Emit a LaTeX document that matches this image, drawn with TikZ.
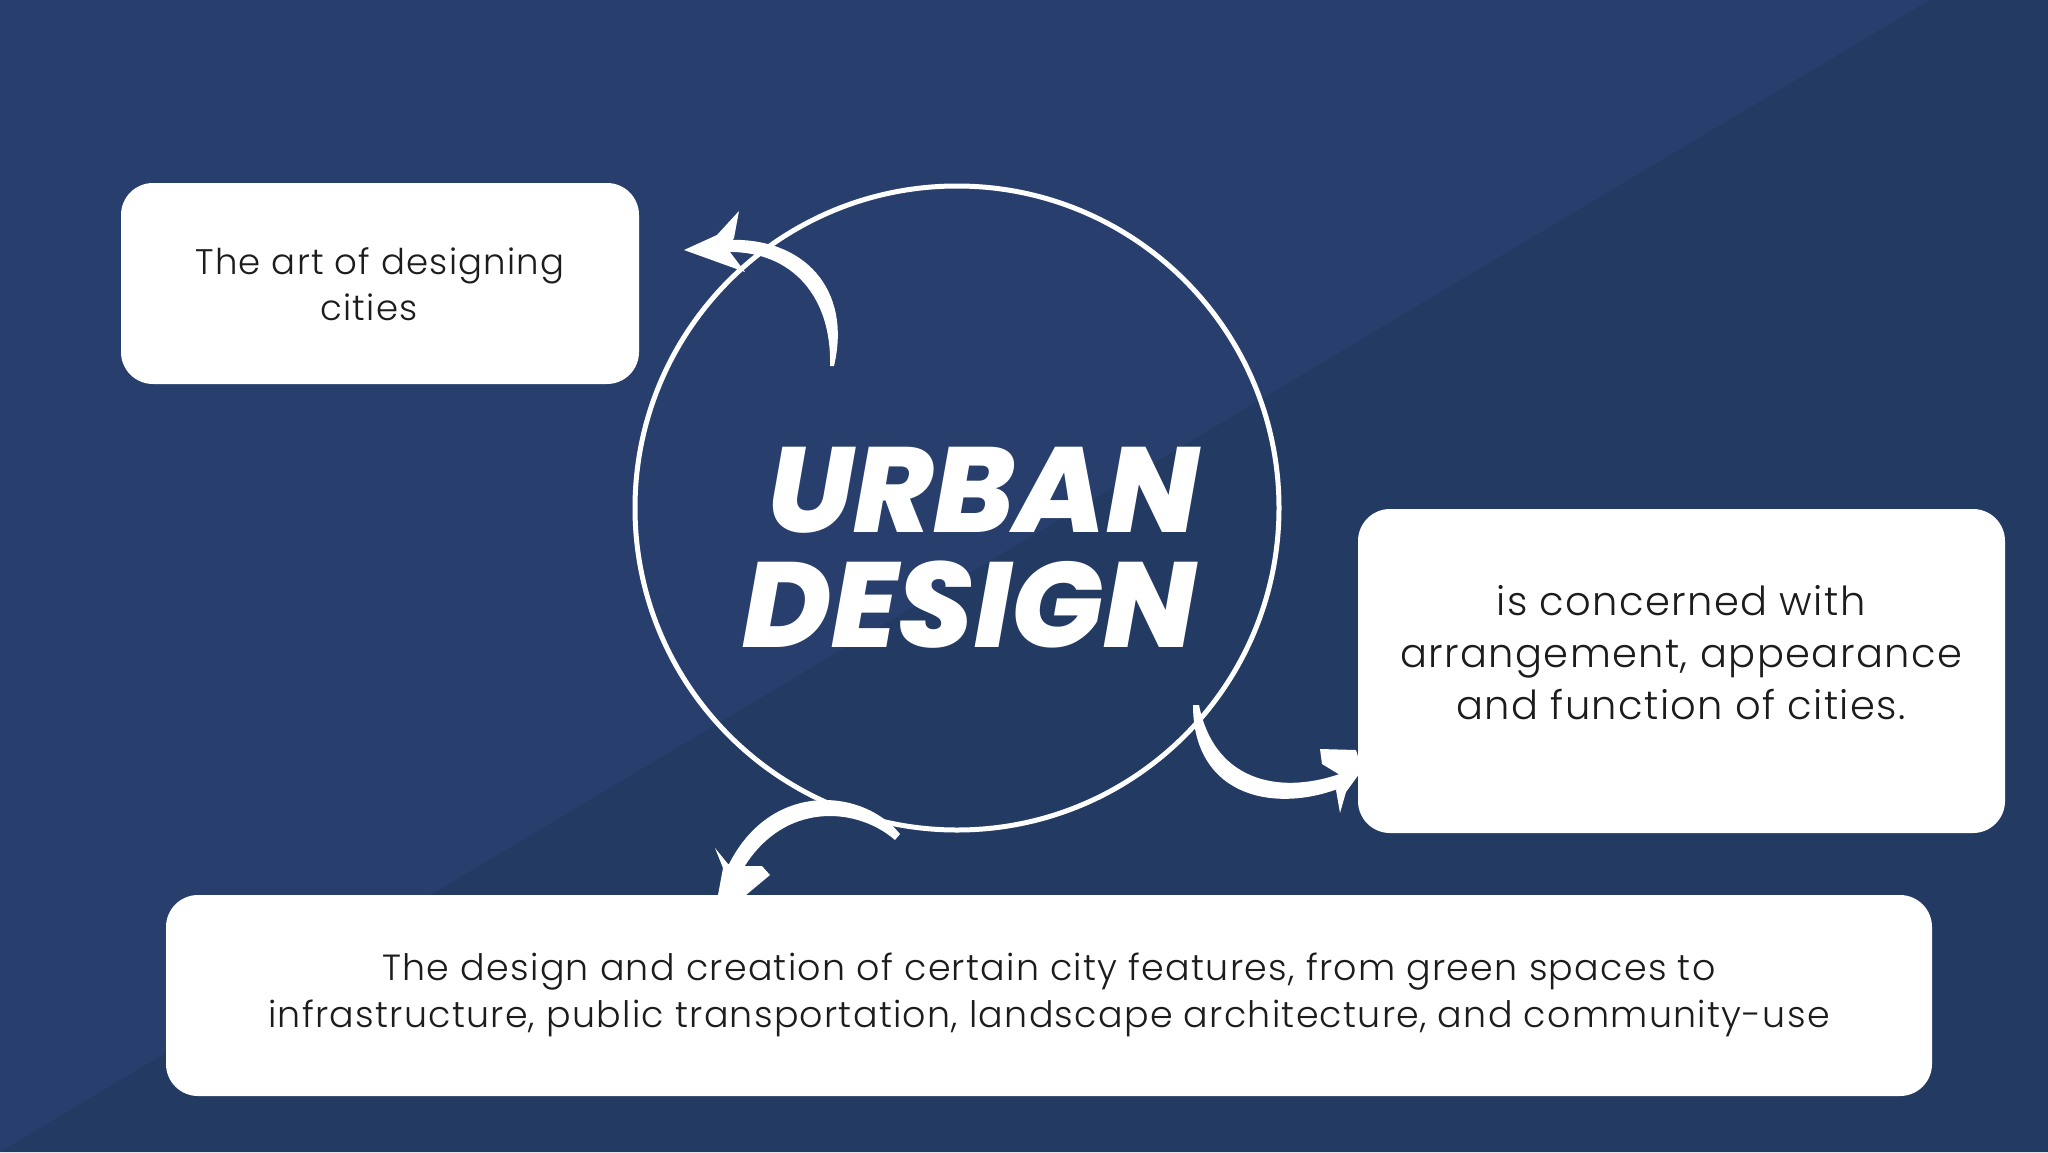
\documentclass[tikz,border=0pt]{standalone}
\usepackage{fontspec}
\setmainfont{Poppins}
\newfontfamily\titlefont{Poppins ExtraBold Italic}
\newfontfamily\bodyfont{Poppins Light}[LetterSpace=3.5]
\definecolor{bgA}{HTML}{283F6E}
\definecolor{bgB}{HTML}{233A63}
\definecolor{txt}{HTML}{1C1C1C}
\begin{document}
\begin{tikzpicture}[x=1pt,y=-1pt,
  card/.style={fill=white,draw=none,rounded corners=32pt,inner sep=0pt},
  cardtext/.style={text=txt,align=center,inner sep=0pt},
  arr/.style={fill=white,draw=none}]
\useasboundingbox (0,0) rectangle (2048,1152);
% background
\fill[bgA] (0,0) rectangle (2048,1152);
\fill[bgB] (0,1152) -- (1930,0) -- (2048,0) -- (2048,1152) -- cycle;
% circle
\node[draw=white,line width=5pt,circle,minimum size=644pt,inner sep=0pt] (circ) at (957,508) {};
% title
\node[text=white,inner sep=0pt,anchor=base] (t1) at (983,532) {\titlefont\fontsize{121}{121}\selectfont URBAN};
\node[text=white,inner sep=0pt,anchor=base] (t2) at (969,647) {\titlefont\fontsize{121}{121}\selectfont DESIGN};
% boxes
\node[card,minimum width=518pt,minimum height=201pt] (b1) at (380,283.5) {};
\node[cardtext,font=\bodyfont\fontsize{35.5}{46}\selectfont] (l1) at (380,284) {The art of designing\\cities\hspace*{22pt}};
\node[card,minimum width=647pt,minimum height=324pt] (b2) at (1681.5,671) {};
\node[cardtext,font=\bodyfont\fontsize{40}{52}\selectfont] (l2) at (1681,653) {is concerned with\\arrangement, appearance\\and function of cities.};
\node[card,minimum width=1766pt,minimum height=201pt] (b3) at (1049,995.5) {};
\node[cardtext,font=\bodyfont\fontsize{36.4}{47}\selectfont] (l3) at (1049,995) {The design and creation of certain city features, from green spaces to\\infrastructure, public transportation, landscape architecture, and community-use};
% arrow 1 (top-left)
\fill[arr] (834,366) .. controls (852,290) and (805,236) .. (725,240)
  -- (725,252) .. controls (795,250) and (832,300) .. (830,366) -- cycle;
\fill[arr] (684,250) -- (717,235) -- (739,211) -- (734,238) -- (727,248) -- (745,272) -- cycle;
% arrow 2 (right)
\fill[arr] (1193,705) .. controls (1193,800) and (1280,814) .. (1345,786)
  -- (1345,772) .. controls (1285,795) and (1215,785) .. (1199,705) -- cycle;
\fill[arr] (1320,749) -- (1356,750) -- (1362,770) -- (1346,792) -- (1340,813) -- (1336,790) -- (1345,778) -- (1322,764) -- cycle;
% arrow 3 (bottom)
\fill[arr] (900,834) .. controls (860,785) and (760,780) .. (722,880)
  -- (736,882) .. controls (775,800) and (855,805) .. (895,840) -- cycle;
\fill[arr] (715,848) -- (728,864) -- (740,866) -- (762,866) -- (770,875) -- (746,895) -- (718,895) -- (723,868) -- cycle;
\end{tikzpicture}
\end{document}
